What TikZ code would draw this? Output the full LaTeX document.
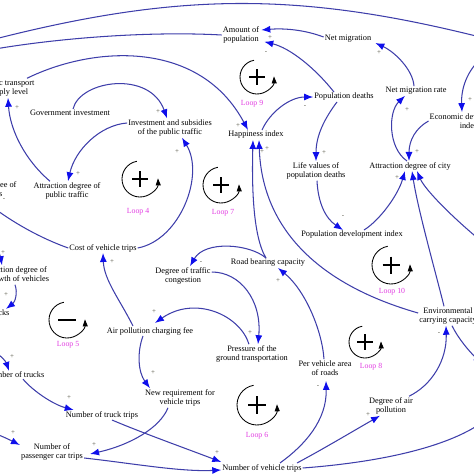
\documentclass[tikz,border=0pt]{standalone}
\usepackage{fontspec}
\setmainfont{Liberation Serif}
\usetikzlibrary{arrows.meta}
\definecolor{edgec}{RGB}{62,62,170}
\definecolor{arrc}{RGB}{15,15,235}
\definecolor{loopc}{RGB}{225,60,225}
\definecolor{polc}{RGB}{85,85,70}
\newcommand{\loopcirc}[3]{%
  \draw[loopline,-{Triangle[length=7pt,width=5pt]}] (#1,#2) ++(-100:#3) arc[start angle=-100,end angle=-362,radius=#3];}
\newcommand{\loopplus}[3]{%
  \draw[loopsign] (#1-#3,#2) -- (#1+#3,#2) (#1,#2-#3) -- (#1,#2+#3);}
\newcommand{\loopminus}[3]{%
  \draw[loopsign,line width=1.6pt] (#1-#3,#2) -- (#1+#3,#2);}
\begin{document}
\begin{tikzpicture}[x=1pt,y=-1pt,
  lbl/.style={font=\fontsize{8.3}{9.5}\selectfont, align=center, inner sep=1pt},
  edge/.style={draw=edgec, line width=1.05pt},
  arr/.style={edge, -{Latex[length=9pt,width=7pt,color=arrc]}},
  pol/.style={font=\fontsize{7}{7}\selectfont, text=polc, inner sep=0pt},
  looplbl/.style={font=\fontsize{7.8}{8}\selectfont, text=loopc, inner sep=0pt},
  loopline/.style={draw=black, line width=0.85pt},
  loopsign/.style={draw=black, line width=1.2pt},
]
\useasboundingbox (0,0) rectangle (474,474);
\clip (0,0) rectangle (474,474);

% ---------- nodes ----------
\node[lbl] (amt) at (241,35) {Amount of\\population};
\node[lbl] (netm) at (348,39) {Net migration};
\node[lbl] (netr) at (416,91) {Net migration rate};
\node[lbl] (econ) at (469,121) {Economic development\\index};
\node[lbl] (popd) at (344,97) {Population deaths};
\node[lbl] (happy) at (256,135) {Happiness index};
\node[lbl] (inv) at (170,128) {Investment and subsidies\\of the public traffic};
\node[lbl] (gov) at (70,113) {Government investment};
\node[lbl] (pts) at (8,88) {Public transport\\supply level};
\node[lbl] (apt) at (67,191) {Attraction degree of\\public traffic};
\node[lbl] (acar) at (-17,190) {Attraction degree of\\private cars};
\node[lbl] (cost) at (103,248) {Cost of vehicle trips};
\node[lbl] (restr) at (12,275) {Restriction degree of\\the growth of vehicles};
\node[lbl] (trk) at (-2,313) {Trucks};
\node[lbl] (ntrk) at (15,375) {Number of trucks};
\node[lbl] (air) at (150,331) {Air pollution charging fee};
\node[lbl] (cong) at (183,276) {Degree of traffic\\congestion};
\node[lbl] (road) at (268,263) {Road bearing capacity};
\node[lbl] (press) at (252,354) {Pressure of the\\ground transportation};
\node[lbl] (life) at (316,171) {Life values of\\population deaths};
\node[lbl] (city) at (410,166) {Attraction degree of city};
\node[lbl] (pdi) at (352,235) {Population development index};
\node[lbl] (env) at (448,316) {Environmental\\carrying capacity};
\node[lbl] (pva) at (325,368) {Per vehicle area\\of roads};
\node[lbl] (dap) at (391,406) {Degree of air\\pollution};
\node[lbl] (nvt) at (262,468) {Number of vehicle trips};
\node[lbl] (newreq) at (180,398) {New requirement for\\vehicle trips};
\node[lbl] (ntt) at (102,415) {Number of truck trips};
\node[lbl] (npc) at (52,452) {Number of\\passenger car trips};

% ---------- off-picture ends ----------
\coordinate (oL1) at (-5,39);
\coordinate (oR1) at (480,37);
\coordinate (oL2) at (-5,49);
\coordinate (oR2) at (485,55);
\coordinate (oL3) at (-12,240);
\coordinate (oL4) at (-6,352);
\coordinate (oL5) at (-6,433);
\coordinate (oR3) at (486,420);
\coordinate (oR4) at (486,245);
\coordinate (oR5) at (482,364);

% ---------- connectors ----------
\draw[edge] (oL1) .. controls (180,-8) and (300,-8) .. (oR1);
\draw[edge] (amt.west) .. controls (150,31) and (60,38) .. (oL2);
\draw[arr] ([yshift=2pt]netm.west) .. controls (305,30) and (285,28) .. ([xshift=1pt,yshift=5pt]amt.east);
\draw[arr] ([xshift=-10pt]popd.north) .. controls (315,68) and (290,48) .. ([xshift=4pt,yshift=3pt]amt.south east);
\draw[arr] ([xshift=-2pt]netr.north) .. controls (413,70) and (395,52) .. ([xshift=3pt,yshift=-4pt]netm.east);
\draw[arr] ([xshift=-3pt]city.north) .. controls (388,148) and (388,112) .. ([xshift=-11pt]netr.south);
\draw[arr] (econ.west) .. controls (416,128) and (409,140) .. ([xshift=-1pt]city.north);
\draw[arr] (oR2) .. controls (466,70) and (461,90) .. ([xshift=-7pt]econ.north);
\draw[arr] ([xshift=6pt]happy.north) .. controls (270,112) and (290,97) .. (popd.west);
\draw[arr] ([xshift=19pt]pts.north) .. controls (95,45) and (200,40) .. ([xshift=-8pt]happy.north);
\draw[arr] ([xshift=3pt]gov.north) .. controls (80,80) and (150,70) .. ([xshift=-3pt]inv.north);
\draw[arr] ([yshift=5pt]inv.west) .. controls (100,125) and (75,150) .. ([xshift=1pt]apt.north);
\draw[arr] ([xshift=-17pt]apt.north) .. controls (25,160) and (10,130) .. (pts.south);
\draw[arr] (cost.west) .. controls (40,238) and (12,222) .. (acar.south);
\draw[arr] (cost.east) .. controls (180,240) and (205,175) .. ([xshift=12pt]inv.south);
\draw[arr] (oL3) .. controls (-4,246) and (0,254) .. ([xshift=-10pt]restr.north);
\draw[arr] ([xshift=3pt]restr.south) .. controls (18,293) and (15,302) .. ([xshift=8pt]trk.north);
\draw[arr] (oL4) .. controls (2,356) and (6,362) .. ([xshift=-6pt]ntrk.north);
\draw[arr] ([xshift=8pt]ntrk.south) .. controls (35,393) and (55,405) .. ([xshift=9pt]ntt.north west);
\draw[arr] (oL5) .. controls (4,437) and (12,441) .. ([yshift=7pt]npc.west);
\draw[arr] ([xshift=-12pt]newreq.south) .. controls (160,428) and (130,445) .. ([xshift=6pt,yshift=-2pt]npc.east);
\draw[arr] ([xshift=10pt]ntt.south) .. controls (140,432) and (190,450) .. ([yshift=6pt]nvt.west);
\draw[arr] ([yshift=-6pt]npc.east) .. controls (130,463) and (180,472) .. ([yshift=-2pt]nvt.west);
\draw[arr] ([xshift=-7pt]air.south) .. controls (137,352) and (138,372) .. ([xshift=-30pt]newreq.north);
\draw[arr] ([xshift=-17pt]air.north) .. controls (120,300) and (104,280) .. (cost.south);
\draw[arr] ([xshift=-3pt]press.north) .. controls (240,315) and (195,295) .. ([xshift=5pt,yshift=3pt]air.north);
\draw[arr] ([yshift=4pt]cong.east) .. controls (240,272) and (262,300) .. ([xshift=6pt]press.north);
\draw[arr] ([xshift=-2pt]road.north) .. controls (250,244) and (205,240) .. ([xshift=7pt]cong.north);
\draw[arr] ([xshift=-1pt]pva.north) .. controls (322,330) and (305,290) .. ([xshift=10pt]road.south);
\draw[arr] ([xshift=18pt]nvt.north) .. controls (305,445) and (327,420) .. ([xshift=1pt,yshift=-4pt]pva.south);
\draw[arr] ([xshift=35pt]nvt.north) .. controls (325,448) and (355,430) .. ([xshift=-11pt]dap.south);
\draw[arr] (nvt.east) .. controls (370,463) and (440,450) .. (oR3);
\draw[arr] ([xshift=18pt]dap.north) .. controls (432,385) and (447,360) .. ([xshift=-2pt]env.south);
\draw[arr] ([xshift=-4pt]env.north) .. controls (435,270) and (418,210) .. ([xshift=2pt]city.south);
\draw[arr] (oR4) .. controls (455,220) and (425,190) .. ([xshift=7pt]city.south);
\draw[arr] ([xshift=12pt]pdi.north) .. controls (380,220) and (398,195) .. ([xshift=-5pt]city.south);
\draw[arr] ([xshift=1pt]life.south) .. controls (318,202) and (325,218) .. ([xshift=-9pt]pdi.north);
\draw[arr] ([xshift=-7pt]popd.south) .. controls (325,118) and (316,135) .. (life.north);
\draw[arr] ([xshift=-2pt]road.north) .. controls (252,235) and (252,180) .. ([xshift=-3pt]happy.south);
\draw[arr] ([yshift=3pt]env.west) .. controls (320,285) and (262,230) .. ([xshift=3pt]happy.south);
\draw[arr] ([xshift=4pt]env.south) .. controls (458,338) and (468,350) .. (oR5);

% ---------- polarities ----------
\node[pol] (s1) at (270,38) {+};
\node[pol] (s2) at (266,53) {-};
\node[pol] (s3) at (379,53) {+};
\node[pol] (s4) at (407,110) {+};
\node[pol] (s5) at (417,152) {+};
\node[pol] (s6) at (470,100) {+};
\node[pol] (s7) at (305,107) {-};
\node[pol] (s8) at (238,126) {+};
\node[pol] (s9) at (262,152) {+};
\node[pol] (s10) at (267,149) {+};
\node[pol] (s11) at (158,112) {+};
\node[pol] (s12) at (78,174) {+};
\node[pol] (s13) at (17,108) {+};
\node[pol] (s14) at (4,200) {-};
\node[pol] (s15) at (177,152) {+};
\node[pol] (s16) at (3,253) {+};
\node[pol] (s17) at (6,295) {+};
\node[pol] (s18) at (12,357) {+};
\node[pol] (s19) at (69,398) {+};
\node[pol] (s20) at (13,433) {+};
\node[pol] (s21) at (94,445) {+};
\node[pol] (s22) at (217,453) {+};
\node[pol] (s23) at (153,373) {+};
\node[pol] (s24) at (112,262) {+};
\node[pol] (s25) at (154,312) {+};
\node[pol] (s26) at (250,333) {+};
\node[pol] (s27) at (201,263) {-};
\node[pol] (s28) at (278,281) {+};
\node[pol] (s29) at (318,387) {-};
\node[pol] (s30) at (368,415) {+};
\node[pol] (s31) at (439,334) {-};
\node[pol] (s32) at (420,181) {-};
\node[pol] (s33) at (397,178) {+};
\node[pol] (s34) at (343,217) {-};
\node[pol] (s35) at (324,153) {+};

% ---------- loops ----------
\loopcirc{140}{179}{18}\loopplus{140}{179}{8}
\node[looplbl] (l4) at (138,212) {Loop 4};
\loopcirc{221}{185}{18}\loopplus{221}{185}{8}
\node[looplbl] (l7) at (223,213) {Loop 7};
\loopcirc{257}{77}{17}\loopplus{257}{77}{8}
\node[looplbl] (l9) at (252,104) {Loop 9};
\loopcirc{391}{265}{19}\loopplus{391}{265}{8.5}
\node[looplbl] (l10) at (392,292) {Loop 10};
\loopcirc{67}{320}{18}\loopminus{67}{320}{9}
\node[looplbl] (l5) at (68,345) {Loop 5};
\loopcirc{257}{405}{20}\loopplus{257}{405}{9}
\node[looplbl] (l6) at (257,436) {Loop 6};
\loopcirc{365}{342}{16}\loopplus{365}{342}{8}
\node[looplbl] (l8) at (371,367) {Loop 8};
\end{tikzpicture}
\end{document}
